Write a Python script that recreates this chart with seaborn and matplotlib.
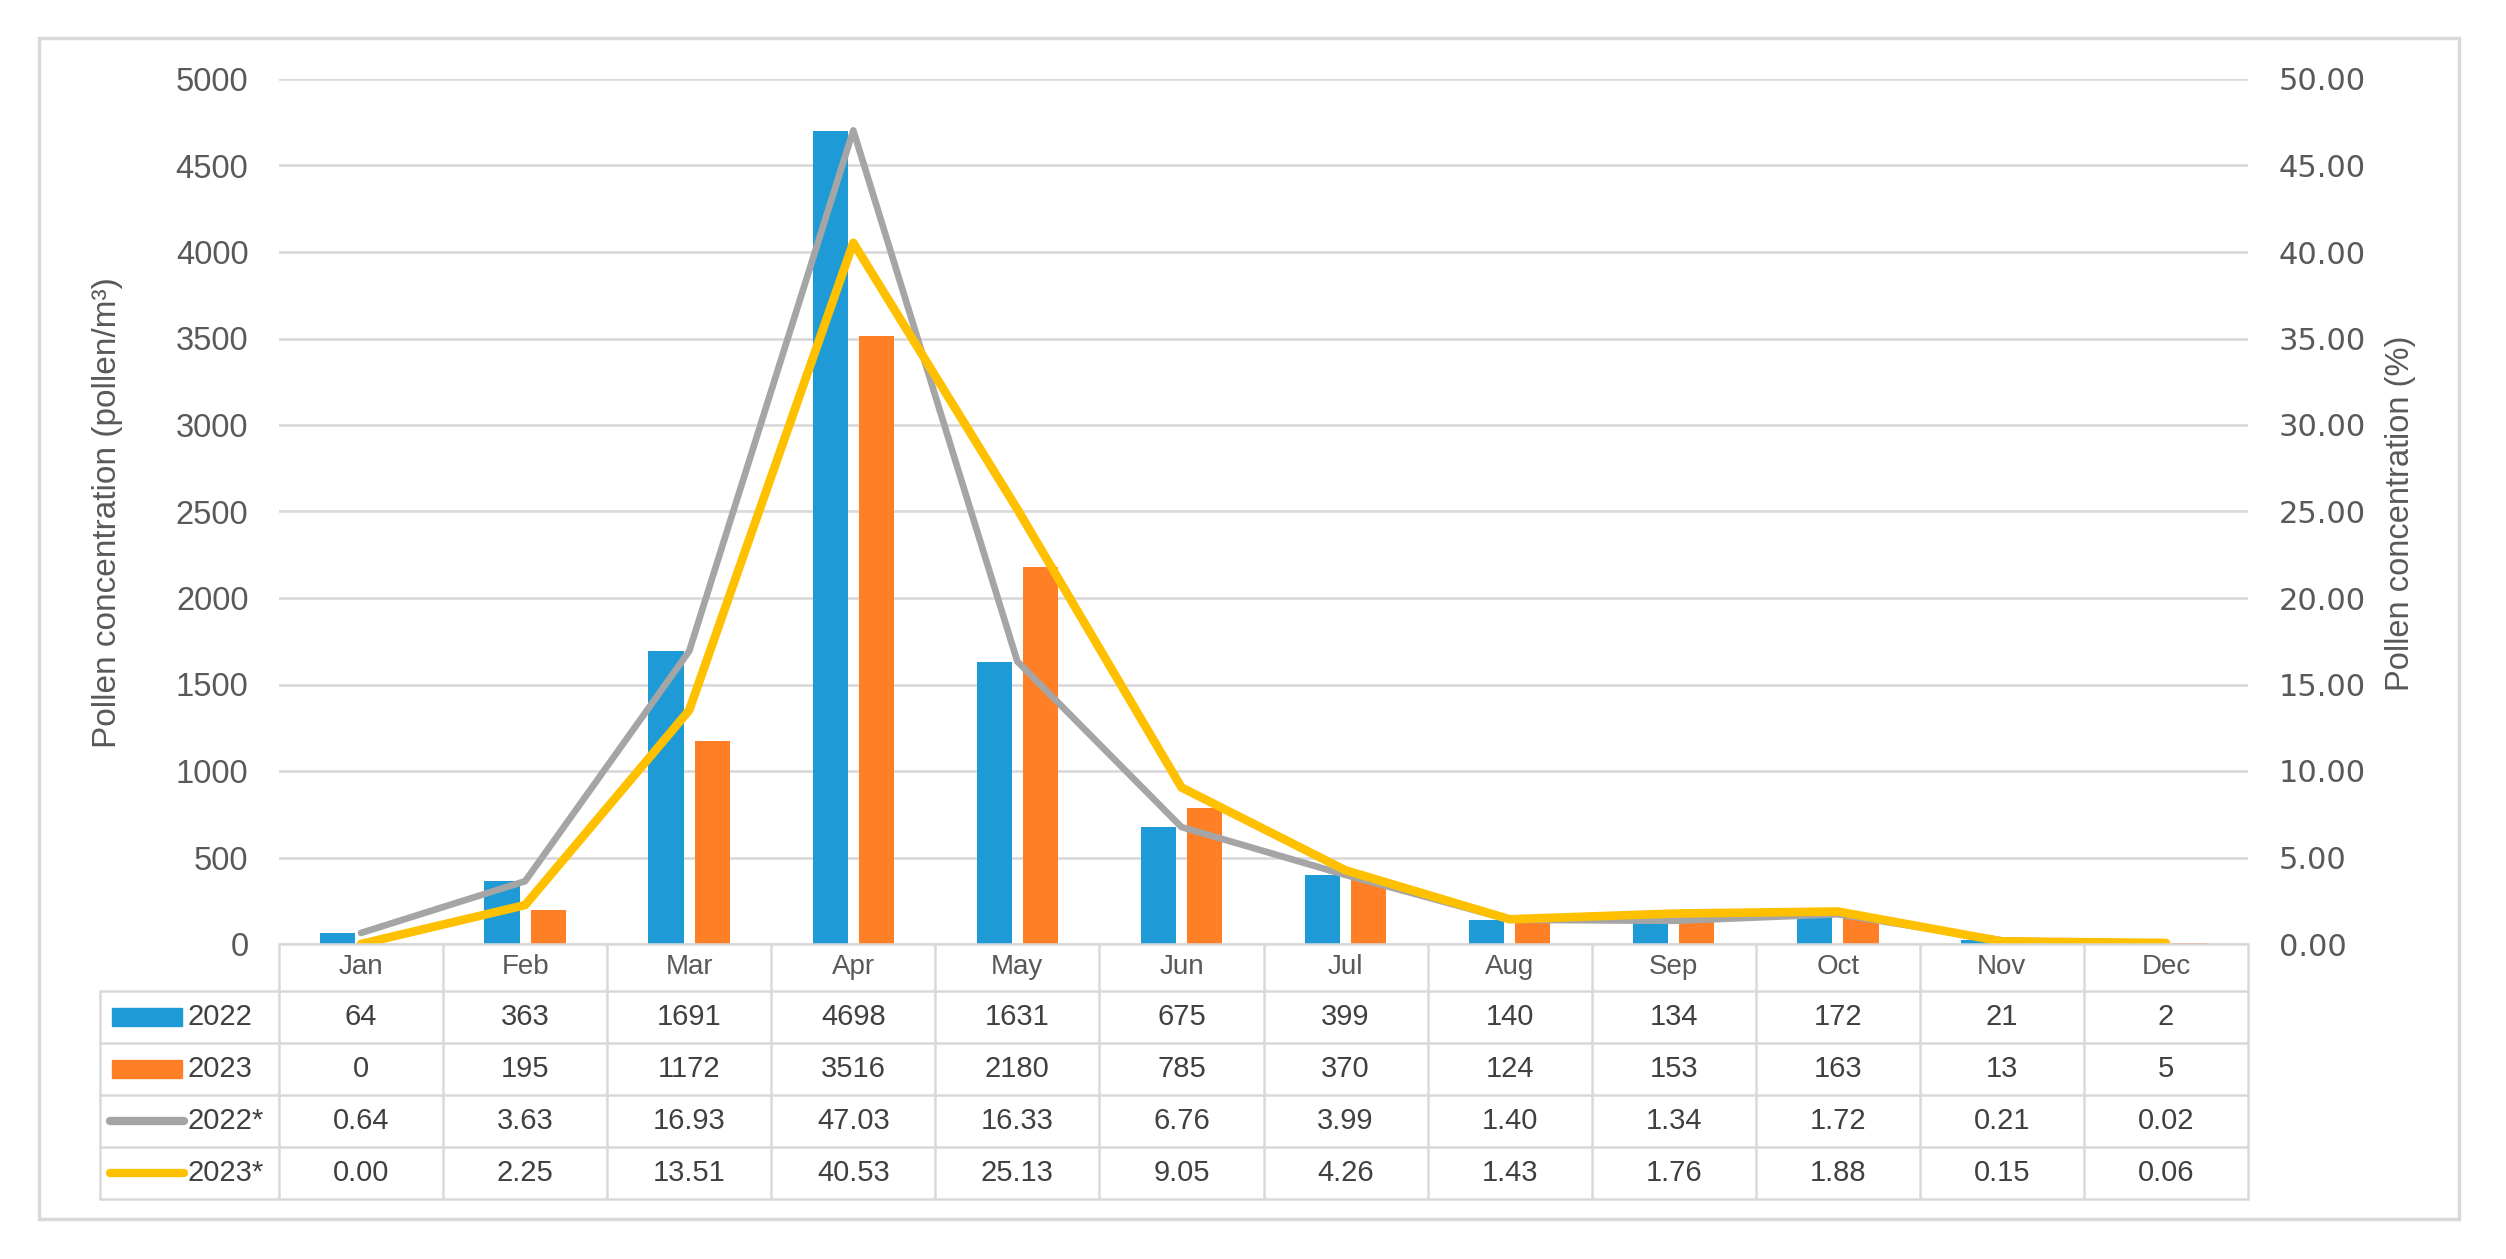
import numpy as np
import pandas as pd
import seaborn as sns
from matplotlib import pyplot as plt
from matplotlib.lines import Line2D
from matplotlib.patches import Rectangle
from matplotlib.ticker import FormatStrFormatter, MultipleLocator
from matplotlib.transforms import blended_transform_factory

months = ["Jan", "Feb", "Mar", "Apr", "May", "Jun", "Jul", "Aug", "Sep", "Oct", "Nov", "Dec"]
conc_2022 = [64, 363, 1691, 4698, 1631, 675, 399, 140, 134, 172, 21, 2]
conc_2023 = [0, 195, 1172, 3516, 2180, 785, 370, 124, 153, 163, 13, 5]
pct_2022 = [0.64, 3.63, 16.93, 47.03, 16.33, 6.76, 3.99, 1.40, 1.34, 1.72, 0.21, 0.02]
pct_2023 = [0.00, 2.25, 13.51, 40.53, 25.13, 9.05, 4.26, 1.43, 1.76, 1.88, 0.15, 0.06]
row_names = ["2022", "2023", "2022*", "2023*"]

BLUE, ORANGE, GRAY, YELLOW = "#1e9bd7", "#ff7f27", "#a5a5a5", "#ffc000"
GRID = "#d9d9d9"
TXT = "#595959"

sns.set_style("white")
plt.rcParams["font.family"] = ["Liberation Sans", "DejaVu Sans"]

W, H = 2506, 1259
L, R, T, B = 279, 2248, 79, 944


def fx(px):
    return px / W


def fy(py):
    return 1 - py / H


fig = plt.figure(figsize=(W / 100, H / 100), dpi=100)
ax = fig.add_axes([fx(L), fy(B), (R - L) / W, (B - T) / H])

bars = pd.DataFrame({
    "month": months * 2,
    "value": conc_2022 + conc_2023,
    "year": ["2022"] * 12 + ["2023"] * 12,
})
sns.barplot(data=bars, x="month", y="value", hue="year", order=months,
            palette=[BLUE, ORANGE], width=0.565, gap=0.24, saturation=1,
            linewidth=0, legend=False, ax=ax)
ax.set_ylim(0, 5000)
ax.yaxis.set_major_locator(MultipleLocator(500))
ax.yaxis.grid(True, color=GRID, linewidth=1.9)
ax.set_axisbelow(True)
ax.set_xlabel("")
ax.set_ylabel("")
ax.tick_params(axis="x", length=0, labelbottom=False)
ax.tick_params(axis="y", length=0, pad=22, labelsize=23.5, labelcolor=TXT)

ax2 = ax.twinx()
sns.pointplot(x=months, y=pct_2022, order=months, color=GRAY, markers="",
              errorbar=None, linewidth=4.8, ax=ax2)
sns.pointplot(x=months, y=pct_2023, order=months, color=YELLOW, markers="",
              errorbar=None, linewidth=6.2, ax=ax2)
ax2.set_ylim(0, 50)
ax2.yaxis.set_major_locator(MultipleLocator(5))
ax2.yaxis.set_major_formatter(FormatStrFormatter("%.2f"))
ax2.tick_params(axis="y", length=0, pad=22, labelsize=22, labelcolor=TXT,
                labelfontfamily="DejaVu Sans")
ax2.tick_params(axis="x", length=0, labelbottom=False)
ax2.set_ylabel("")
ax2.set_xlabel("")
ax.set_xlim(-0.5, len(months) - 0.5)
ax2.set_xlim(-0.5, len(months) - 0.5)
for a in (ax, ax2):
    for s in a.spines.values():
        s.set_visible(False)

fig.text(fx(108), fy(513), "Pollen concentration (pollen/m³)", rotation=90,
         ha="center", va="center", fontsize=24, color=TXT)
fig.text(fx(2400), fy(513), "Pollen concentration (%)", rotation=90,
         ha="center", va="center", fontsize=23.5, color=TXT)

# data table under the plot
xl, xr = ax.get_xlim()


def px2x(px):
    return xl + (px - L) / (R - L) * (xr - xl)


trans = blended_transform_factory(ax.transData, fig.transFigure)
rows_y = [944, 991, 1043, 1095, 1147, 1199]
lkw = dict(color=GRID, linewidth=1.8, transform=trans, clip_on=False)

fig.add_artist(Line2D([xl, xr], [fy(rows_y[0])] * 2, **lkw))
for yy in rows_y[1:]:
    fig.add_artist(Line2D([px2x(100), xr], [fy(yy)] * 2, **lkw))
for i in range(len(months) + 1):
    fig.add_artist(Line2D([xl + i, xl + i], [fy(rows_y[0]), fy(rows_y[-1])], **lkw))
fig.add_artist(Line2D([px2x(100)] * 2, [fy(rows_y[1]), fy(rows_y[-1])], **lkw))

for i, m in enumerate(months):
    ax.text(i, fy((rows_y[0] + rows_y[1]) / 2), m, transform=trans,
            ha="center", va="center", fontsize=20, color=TXT)

table_vals = [
    [str(v) for v in conc_2022],
    [str(v) for v in conc_2023],
    [f"{v:.2f}" for v in pct_2022],
    [f"{v:.2f}" for v in pct_2023],
]
for r, vals in enumerate(table_vals):
    yc = fy((rows_y[r + 1] + rows_y[r + 2]) / 2)
    for i, v in enumerate(vals):
        ax.text(i, yc, v, transform=trans, ha="center", va="center",
                fontsize=21, color="#404040")
    ax.text(px2x(188), yc, row_names[r], transform=trans, ha="left",
            va="center", fontsize=21, color="#404040")

swatch_colors = [BLUE, ORANGE, GRAY, YELLOW]
for r, c in enumerate(swatch_colors):
    ymid = (rows_y[r + 1] + rows_y[r + 2]) / 2
    if r < 2:
        fig.add_artist(Rectangle((px2x(112), fy(ymid + 9)), px2x(182) - px2x(112),
                                 18 / H, color=c, transform=trans, clip_on=False))
    else:
        fig.add_artist(Line2D([px2x(110), px2x(184)], [fy(ymid)] * 2, color=c,
                              linewidth=6, solid_capstyle="round",
                              transform=trans, clip_on=False))

# outer frame
fig.add_artist(Rectangle((fx(39), fy(1219)), (2459 - 39) / W, (1219 - 38) / H,
                         fill=False, edgecolor=GRID, linewidth=2.5,
                         transform=fig.transFigure))

fig.savefig("out.png", dpi=100, facecolor="white")
